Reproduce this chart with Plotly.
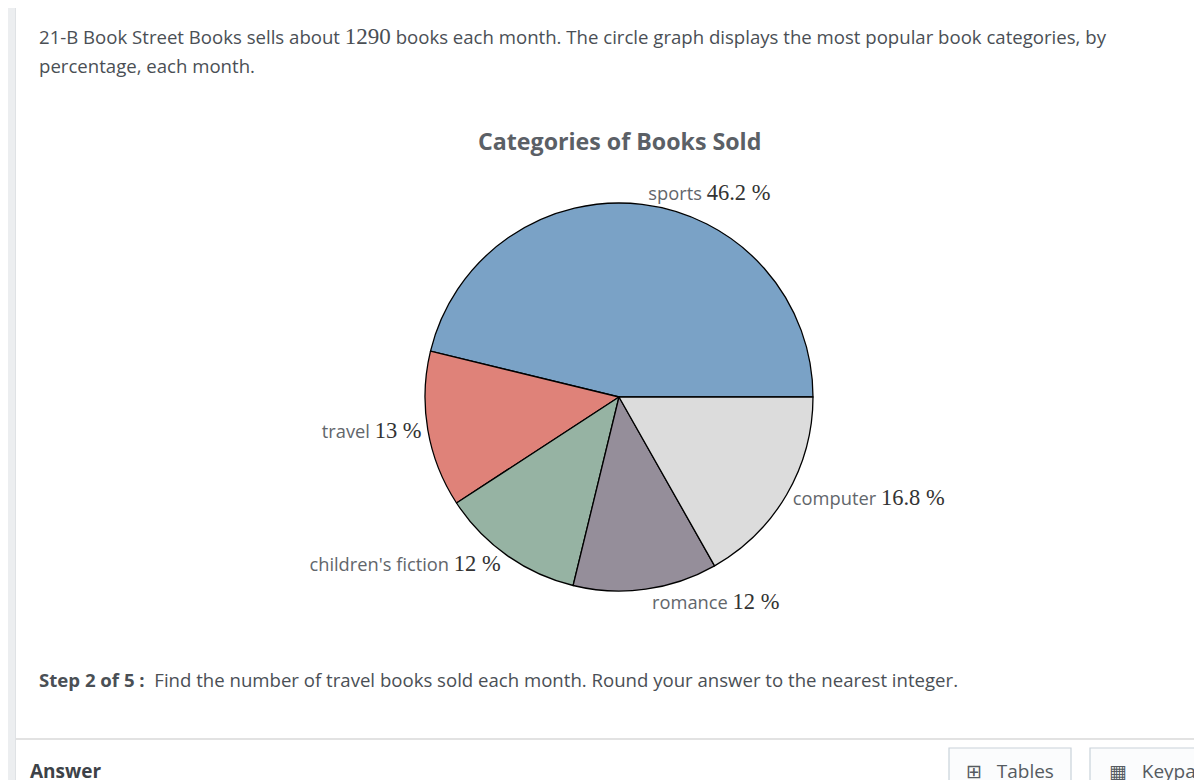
import plotly.graph_objects as go

# the page body adds an 8px margin, so the figure is laid out in page pixels minus 8
OFF = 8
W, H = 1202 - OFF, 780 - OFF

categories = ["sports", "travel", "children's fiction", "romance", "computer"]
percentages = [46.2, 13, 12, 12, 16.8]
slice_colors = ["#7aa2c6", "#df8279", "#96b3a3", "#958e9a", "#dcdcdc"]

title_text = "Categories of Books Sold"
books_per_month = 1290


def px(x):
    return (x - OFF) / W


def py(y):
    return 1 - (y - OFF) / H


# first slice starts at 3 o'clock and slices follow counter-clockwise
first_share = percentages[0] / sum(percentages)
start_rotation = 90 - first_share * 360

fig = go.Figure()

cx, cy, r = 619, 397, 194
fig.add_trace(go.Pie(
    labels=categories,
    values=percentages,
    sort=False,
    direction="counterclockwise",
    rotation=start_rotation,
    marker=dict(colors=slice_colors, line=dict(color="#000000", width=1.3)),
    textposition="outside",
    texttemplate="%{label} <span style='font-family:Liberation Serif;font-size:22.5px;fill:#333333'>%{value} %</span>",
    textfont=dict(family="Open Sans", size=18.3, color="#62666b"),
    showlegend=False,
    hoverinfo="skip",
    domain=dict(x=[px(cx - r), px(cx + r)], y=[py(cy + r), py(cy - r)]),
))

shapes = [
    # left gray strip
    dict(type="rect", xref="paper", yref="paper", x0=0, x1=px(15), y0=0, y1=1,
         fillcolor="#eceef0", line=dict(width=0), layer="below"),
    dict(type="line", xref="paper", yref="paper", x0=px(15.5), x1=px(15.5), y0=0, y1=1,
         line=dict(color="#dfe2e5", width=1)),
    # separator line
    dict(type="line", xref="paper", yref="paper", x0=px(16), x1=1, y0=py(739), y1=py(739),
         line=dict(color="#e2e2e2", width=2)),
    # buttons
    dict(type="rect", xref="paper", yref="paper", x0=px(949), x1=px(1071), y0=py(790), y1=py(748),
         fillcolor="#fbfcfd", line=dict(color="#c9d2da", width=1.2)),
    dict(type="rect", xref="paper", yref="paper", x0=px(1090), x1=px(1215), y0=py(790), y1=py(748),
         fillcolor="#fbfcfd", line=dict(color="#c9d2da", width=1.2)),
]

txt = "#4a4f55"
body = 18.6
annotations = [
    dict(text="21-B Book Street Books sells about <span style='font-family:Liberation Serif;font-size:23px'>"
              + str(books_per_month)
              + "</span> books each month. The circle graph displays the most popular book categories, by",
         x=px(37), y=py(36), xanchor="left", yanchor="middle",
         font=dict(family="Open Sans", size=body, color=txt)),
    dict(text="percentage, each month.",
         x=px(37), y=py(65), xanchor="left", yanchor="middle",
         font=dict(family="Open Sans", size=body, color=txt)),
    dict(text="<b>" + title_text + "</b>",
         x=px(619), y=py(141), xanchor="center", yanchor="middle",
         font=dict(family="Open Sans", size=23.2, color="#5b6066")),
    dict(text="<b>Step 2 of 5 :</b>  Find the number of travel books sold each month. Round your answer to the nearest integer.",
         x=px(37), y=py(679), xanchor="left", yanchor="middle",
         font=dict(family="Open Sans", size=body, color=txt)),
    dict(text="<b>Answer</b>",
         x=px(28), y=py(771), xanchor="left", yanchor="middle",
         font=dict(family="Open Sans", size=19, color="#3d4248")),
    dict(text="<span style='font-family:DejaVu Sans;font-size:19px'>⊞</span>   Tables",
         x=px(964), y=py(771), xanchor="left", yanchor="middle",
         font=dict(family="Open Sans", size=19, color="#555b61")),
    dict(text="<span style='font-family:DejaVu Sans;font-size:19px'>▦</span>   Keypad",
         x=px(1107), y=py(771), xanchor="left", yanchor="middle",
         font=dict(family="Open Sans", size=19, color="#555b61")),
]
for a in annotations:
    a.update(xref="paper", yref="paper", showarrow=False)

fig.update_layout(
    width=W, height=H,
    margin=dict(l=0, r=0, t=0, b=0),
    paper_bgcolor="#ffffff",
    plot_bgcolor="#ffffff",
    shapes=shapes,
    annotations=annotations,
)

fig.write_html("out.html")
